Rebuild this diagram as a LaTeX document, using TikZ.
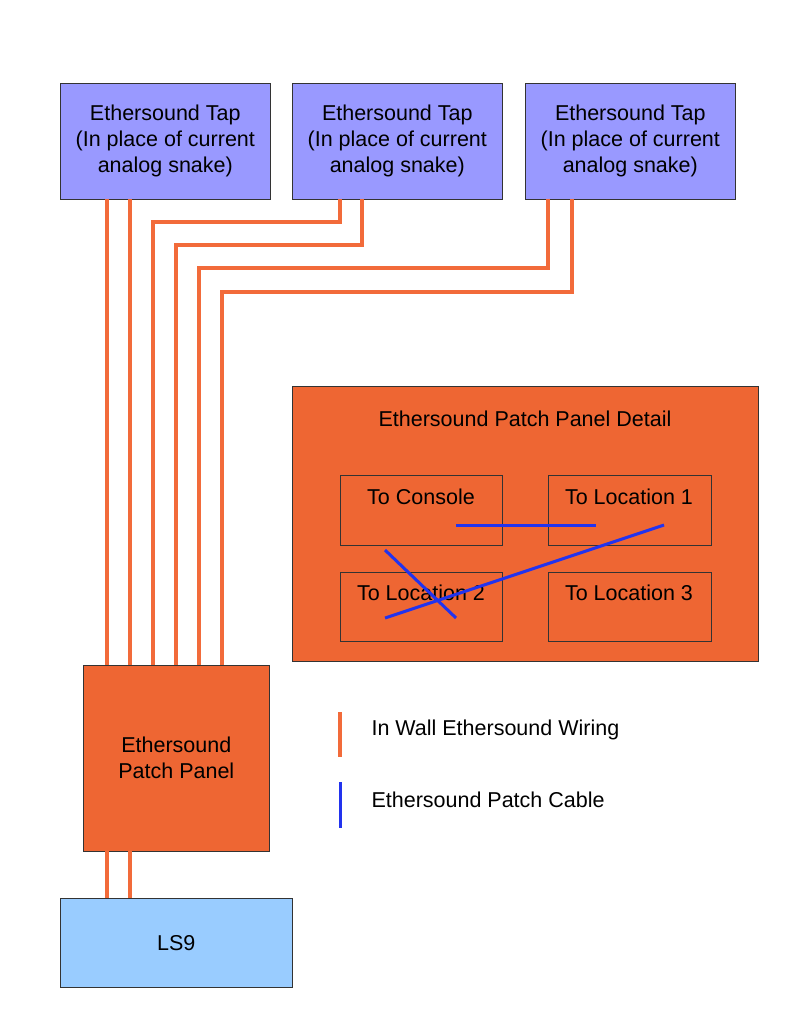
\documentclass[tikz,border=0pt]{standalone}
\usepackage{fontspec}
\setmainfont{Liberation Sans}
\definecolor{tap}{HTML}{9999FF}
\definecolor{org}{HTML}{EE6633}
\definecolor{wire}{HTML}{F26B3A}
\definecolor{ls}{HTML}{99CCFF}
\definecolor{cab}{HTML}{2233EE}
\begin{document}
\begin{tikzpicture}[x=1pt,y=-1pt,
  box/.style={draw=black!80,line width=0.6pt,anchor=north west,inner sep=0,align=center,font=\fontsize{21.5}{26}\selectfont},
  w/.style={wire,line width=4pt},
  c/.style={cab,line width=3pt},
  lbl/.style={font=\fontsize{21.5}{26}\selectfont,anchor=west}]
\useasboundingbox (0,0) rectangle (791,1024);
\node[box,fill=tap,minimum width=210,minimum height=116] (t1) at (60,83) {Ethersound Tap\\(In place of current\\analog snake)};
\node[box,fill=tap,minimum width=210,minimum height=116] (t2) at (292,83) {Ethersound Tap\\(In place of current\\analog snake)};
\node[box,fill=tap,minimum width=210,minimum height=116] (t3) at (525,83) {Ethersound Tap\\(In place of current\\analog snake)};
\node[box,fill=org,minimum width=186,minimum height=186] (pp) at (83,665) {Ethersound\\Patch Panel};
\node[box,fill=ls,minimum width=232,minimum height=89] (ls9) at (60,898) {LS9};
\node[box,fill=org,minimum width=466,minimum height=275] (det) at (292,386) {};
\node[lbl,anchor=center] (dt) at (525,419) {Ethersound Patch Panel Detail};
\node[box,fill=org,minimum width=162,minimum height=70,anchor=north west] (b1) at (340,475) {};
\node[lbl,anchor=north] at (421,485) {To Console};
\node[box,fill=org,minimum width=163,minimum height=70] (b2) at (548,475) {};
\node[lbl,anchor=north] at (629,485) {To Location 1};
\node[box,fill=org,minimum width=162,minimum height=69] (b3) at (340,572) {};
\node[lbl,anchor=north] at (421,581) {To Location 2};
\node[box,fill=org,minimum width=163,minimum height=69] (b4) at (548,572) {};
\node[lbl,anchor=north] at (629,581) {To Location 3};
\coordinate (c1) at (456,525); \coordinate (c2) at (596,525);
\coordinate (c3) at (385,550); \coordinate (c4) at (456,618);
\coordinate (c5) at (385,618); \coordinate (c6) at (664,525);
\draw[c] (c1) -- (c2); \draw[c] (c3) -- (c4); \draw[c] (c5) -- (c6);
\draw[w] (107,199) -- (107,665);
\draw[w] (130,199) -- (130,665);
\draw[w] (340,199) -- (340,222) -- (153,222) -- (153,665);
\draw[w] (362,199) -- (362,245) -- (176,245) -- (176,665);
\draw[w] (548,199) -- (548,268) -- (199,268) -- (199,665);
\draw[w] (572,199) -- (572,292) -- (222,292) -- (222,665);
\draw[w] (107,851) -- (107,898);
\draw[w] (130,851) -- (130,898);
\coordinate (l1) at (340,712); \coordinate (l2) at (340,757);
\coordinate (l3) at (340,782); \coordinate (l4) at (340,828);
\draw[w] (l1) -- (l2);
\draw[c] (l3) -- (l4);
\node[lbl] at (368,730) {In Wall Ethersound Wiring};
\node[lbl] at (368,800) {Ethersound Patch Cable};
\end{tikzpicture}
\end{document}
